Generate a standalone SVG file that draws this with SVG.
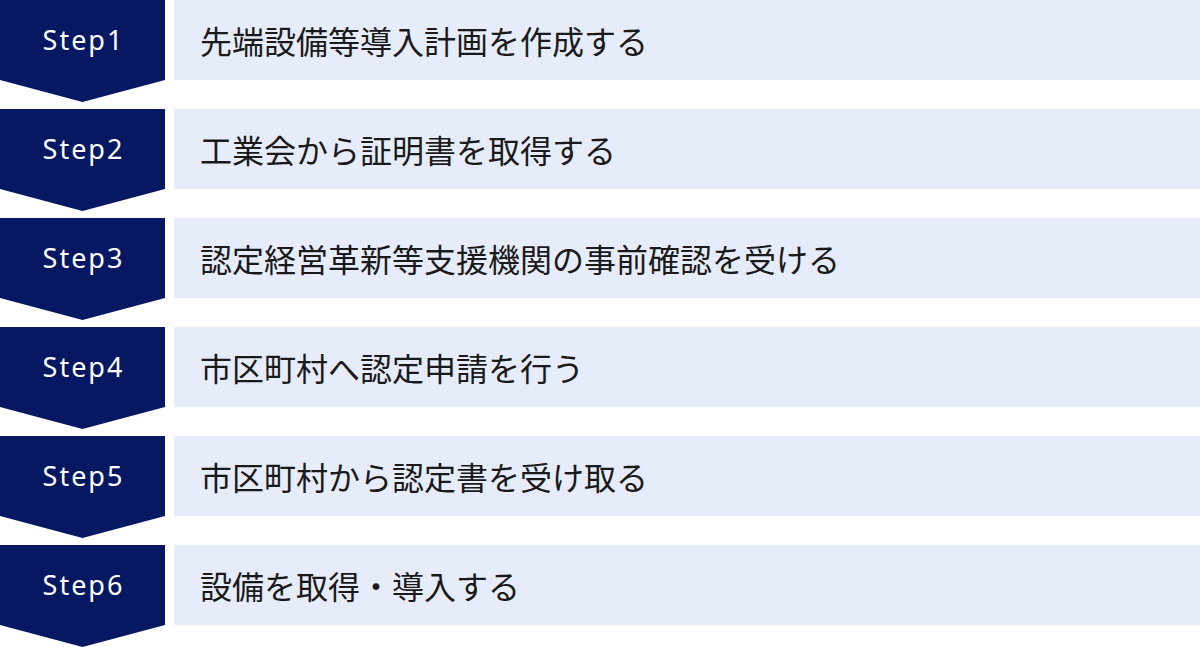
<svg xmlns="http://www.w3.org/2000/svg" width="1200" height="647" viewBox="0 0 1200 647">
<style>
.badge{fill:#061862}
.box{fill:#e6ecf9}
.step{font-family:"Noto Sans","Noto Sans CJK JP",sans-serif;font-size:27px;fill:#ffffff;letter-spacing:2px;text-anchor:middle}
.label{font-family:"Noto Sans CJK JP",sans-serif;font-size:32px;fill:#1a1a1a;dominant-baseline:central}
</style>
<defs>
<polygon id="chev" points="0,0 165,0 165,80 82.5,102 0,80"/>
</defs>
<rect width="1200" height="647" fill="#ffffff"/>
<g id="connectors"></g>
<g id="step1" transform="translate(0,0)">
<use href="#chev" class="badge"/>
<rect class="box" x="174" y="0" width="1026" height="80"/>
<text class="step" x="83.5" y="50">Step1</text>
<text class="label" x="200" y="40">先端設備等導入計画を作成する</text>
</g>
<g id="step2" transform="translate(0,109)">
<use href="#chev" class="badge"/>
<rect class="box" x="174" y="0" width="1026" height="80"/>
<text class="step" x="83.5" y="50">Step2</text>
<text class="label" x="200" y="40">工業会から証明書を取得する</text>
</g>
<g id="step3" transform="translate(0,218)">
<use href="#chev" class="badge"/>
<rect class="box" x="174" y="0" width="1026" height="80"/>
<text class="step" x="83.5" y="50">Step3</text>
<text class="label" x="200" y="40">認定経営革新等支援機関の事前確認を受ける</text>
</g>
<g id="step4" transform="translate(0,327)">
<use href="#chev" class="badge"/>
<rect class="box" x="174" y="0" width="1026" height="80"/>
<text class="step" x="83.5" y="50">Step4</text>
<text class="label" x="200" y="40">市区町村へ認定申請を行う</text>
</g>
<g id="step5" transform="translate(0,436)">
<use href="#chev" class="badge"/>
<rect class="box" x="174" y="0" width="1026" height="80"/>
<text class="step" x="83.5" y="50">Step5</text>
<text class="label" x="200" y="40">市区町村から認定書を受け取る</text>
</g>
<g id="step6" transform="translate(0,545)">
<use href="#chev" class="badge"/>
<rect class="box" x="174" y="0" width="1026" height="80"/>
<text class="step" x="83.5" y="50">Step6</text>
<text class="label" x="200" y="40">設備を取得・導入する</text>
</g>
</svg>
